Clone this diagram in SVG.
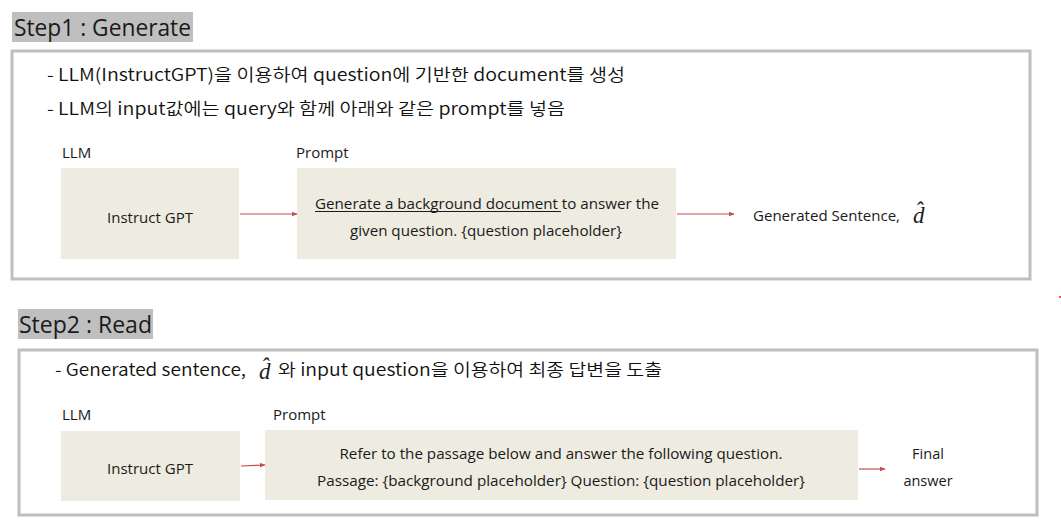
<svg xmlns="http://www.w3.org/2000/svg" width="1061" height="527" viewBox="0 0 1061 527">
<defs>
<style>
.t{font-family:"Open Sans","Noto Sans CJK KR",sans-serif;fill:#1a1a1a}
.k{font-family:"Noto Sans CJK KR","Open Sans",sans-serif;fill:#111111;font-weight:350}
.title{font-size:23px}
.bul{font-size:17.5px}
.lbl{font-size:15px}
.box{font-size:14.5px}
.frame{fill:#ffffff;stroke:#bfbfbf;stroke-width:3}
.hl{fill:#bfbfbf}
.node{fill:#eeece1}
.con{stroke:#c0504d;stroke-width:1.2;fill:none}
.hat{font-family:"Liberation Serif",serif;font-style:italic;fill:#1a1a1a}
</style>
<marker id="ah" viewBox="0 0 10 10" refX="9" refY="5" markerWidth="6" markerHeight="6" markerUnits="userSpaceOnUse" orient="auto">
<path d="M0,1 L10,5 L0,9 z" fill="#c0504d"/>
</marker>
</defs>
<rect width="1061" height="527" fill="#ffffff"/>

<g id="step1">
<rect class="hl" x="12" y="12" width="181" height="30"/>
<text class="t title" x="14" y="36" textLength="177" lengthAdjust="spacingAndGlyphs">Step1 : Generate</text>
<rect class="frame" x="12" y="51" width="1018" height="228"/>
<text class="k bul" x="47" y="81" textLength="578" lengthAdjust="spacingAndGlyphs">- LLM(InstructGPT)을 이용하여 question에 기반한 document를 생성</text>
<text class="k bul" x="47" y="115" textLength="518" lengthAdjust="spacingAndGlyphs">- LLM의 input값에는 query와 함께 아래와 같은 prompt를 넣음</text>
<text class="t lbl" x="62" y="158">LLM</text>
<text class="t lbl" x="296" y="158">Prompt</text>
</g>

<g id="llm1">
<rect class="node" x="61" y="168" width="178" height="91"/>
<text class="t lbl" x="150" y="223" text-anchor="middle" textLength="86" lengthAdjust="spacingAndGlyphs">Instruct GPT</text>
</g>

<g id="prompt1">
<rect class="node" x="297" y="168" width="379" height="91"/>
<text class="t box" x="315" y="209" textLength="344" lengthAdjust="spacingAndGlyphs">Generate a background document to answer the</text>
<line x1="315" y1="211.5" x2="561" y2="211.5" stroke="#1a1a1a" stroke-width="1"/>
<text class="t box" x="350" y="236" textLength="272" lengthAdjust="spacingAndGlyphs">given question.  {question placeholder}</text>
</g>

<g id="gen1">
<text class="t box" x="753" y="221" textLength="147" lengthAdjust="spacingAndGlyphs">Generated Sentence,</text>
<text class="hat" x="913" y="223" font-size="23">d̂</text>
</g>

<g id="step2">
<rect class="hl" x="18" y="309" width="135" height="30"/>
<text class="t title" x="19" y="333" textLength="133" lengthAdjust="spacingAndGlyphs">Step2 : Read</text>
<rect class="frame" x="19" y="350" width="1018" height="165"/>
<text class="k bul" x="55" y="376" textLength="191" lengthAdjust="spacingAndGlyphs">- Generated sentence,</text>
<text class="hat" x="259" y="379" font-size="23">d̂</text>
<text class="k bul" x="278" y="376" textLength="384" lengthAdjust="spacingAndGlyphs">와 input question을 이용하여 최종 답변을 도출</text>
<text class="t lbl" x="62" y="420">LLM</text>
<text class="t lbl" x="273" y="420">Prompt</text>
</g>

<g id="llm2">
<rect class="node" x="61" y="431" width="179" height="70"/>
<text class="t lbl" x="150" y="474" text-anchor="middle" textLength="86" lengthAdjust="spacingAndGlyphs">Instruct GPT</text>
</g>

<g id="prompt2">
<rect class="node" x="265" y="430" width="593" height="70"/>
<text class="t box" x="561" y="459" text-anchor="middle" textLength="443" lengthAdjust="spacingAndGlyphs">Refer to the passage below and answer the following question.</text>
<text class="t box" x="561" y="486" text-anchor="middle" textLength="488" lengthAdjust="spacingAndGlyphs">Passage: {background placeholder} Question: {question placeholder}</text>
</g>

<g id="final">
<text class="t box" x="928" y="459" text-anchor="middle">Final</text>
<text class="t box" x="928" y="486" text-anchor="middle">answer</text>
</g>

<g id="connectors">
<line class="con" x1="240" y1="214" x2="297" y2="214" marker-end="url(#ah)"/>
<line class="con" x1="677" y1="214" x2="734" y2="214" marker-end="url(#ah)"/>
<line class="con" x1="241" y1="466" x2="265" y2="465" marker-end="url(#ah)"/>
<line class="con" x1="859" y1="469" x2="885" y2="469" marker-end="url(#ah)"/>
<circle cx="1060" cy="297" r="1" fill="#e02020"/>
</g>
</svg>
